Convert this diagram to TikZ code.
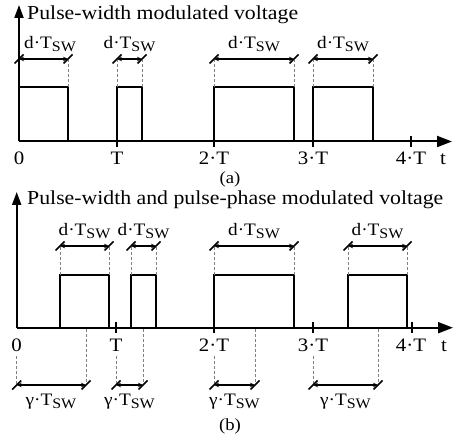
\documentclass[tikz,border=0pt]{standalone}
\usepackage{fontspec}
\setmainfont{Liberation Serif}[FakeStretch=1.1]
\usetikzlibrary{arrows.meta,calc}
\newcommand\subsw{\raisebox{-3pt}{\fontsize{14.5}{14.5}\selectfont SW}}
\newcommand\dTsw{d·T\subsw}
\newcommand\gTsw{γ·T\subsw}
\newcommand\mydim[5]{% x1, x2, y, label, name
  \coordinate (#5a) at (#1,#3);
  \coordinate (#5b) at (#2,#3);
  \draw[dimline] (#5a) -- (#5b);
  \draw[slash] ($(#5a)+(-4.5,4.5)$) -- ($(#5a)+(4.5,-4.5)$);
  \draw[slash] ($(#5b)+(-4.5,4.5)$) -- ($(#5b)+(4.5,-4.5)$);
  \node[dlab] (#5l) at ($(#5a)!0.5!(#5b)+(0,-10)$) {#4};
}
\begin{document}
\begin{tikzpicture}[x=1pt,y=-1pt,
  vaxis/.style={line width=2pt,-{Triangle[length=13pt,width=9pt]}},
  haxis/.style={line width=2pt,-{Triangle[length=15pt,width=11pt]}},
  pulse/.style={line width=2pt},
  dimline/.style={line width=1.6pt,{Stealth[length=5pt,width=4.5pt]}-{Stealth[length=5pt,width=4.5pt]}},
  slash/.style={line width=1.5pt},
  guide/.style={gray,line width=1pt,dash pattern=on 3pt off 2pt},
  tickmark/.style={line width=1.8pt},
  dlab/.style={font=\fontsize{17.5}{17.5}\selectfont,inner sep=0pt,anchor=base},
  tlab/.style={font=\fontsize{19}{19}\selectfont,inner sep=0pt,anchor=base},
  title/.style={font=\fontsize{19.8}{20}\selectfont,inner sep=0pt,anchor=base west},
  caplab/.style={font=\fontsize{17}{17}\selectfont,inner sep=0pt,anchor=base}]
\useasboundingbox (0,0) rectangle (474,443);

% ================= (a) =================
\coordinate (oa) at (19,141.5);
\coordinate (ya) at (19,5);
\coordinate (xa) at (452,141.5);
\node[title] (ta) at (27,20) {Pulse-width modulated voltage};
% pulses
\draw[pulse] (19,141.5) -- (19,87) -- (68,87) -- (68,141.5);
\draw[pulse] (117,141.5) -- (117,87) -- (142,87) -- (142,141.5);
\draw[pulse] (214,141.5) -- (214,87) -- (294,87) -- (294,141.5);
\draw[pulse] (313,141.5) -- (313,87) -- (373,87) -- (373,141.5);
% ticks
\foreach \x in {117,214,313,411} \draw[tickmark] (\x,136) -- (\x,147);
% axes
\draw[vaxis] (oa) -- (ya);
\draw[haxis] (oa) -- (xa);
% guides
\foreach \x in {68,117,142,214,294,313,373} \draw[guide] (\x,87) -- (\x,60);
% dimensions
\mydim{19}{68}{59}{}{a1}
\node[dlab] (a1t) at (50,49) {\dTsw};
\mydim{117}{142}{59}{\dTsw}{a2}
\mydim{214}{294}{59}{\dTsw}{a3}
\mydim{313}{373}{59}{\dTsw}{a4}
% tick labels
\node[tlab] (a0) at (19,165) {0};
\node[tlab] (aT) at (117,165) {T};
\node[tlab] (a2T) at (214,165) {2·T};
\node[tlab] (a3T) at (313,165) {3·T};
\node[tlab] (a4T) at (411,165) {4·T};
\node[tlab] (at) at (443,165) {t};
\node[caplab] (capa) at (230,184) {(a)};

% ================= (b) =================
\coordinate (ob) at (16.7,327.7);
\coordinate (yb) at (16.7,192);
\coordinate (xb) at (453,327.7);
\node[title] (tb) at (27,205) {Pulse-width and pulse-phase modulated voltage};
% pulses
\draw[pulse] (60,327.7) -- (60,275) -- (109,275) -- (109,327.7);
\draw[pulse] (131,327.7) -- (131,275) -- (156,275) -- (156,327.7);
\draw[pulse] (214,327.7) -- (214,275) -- (294,275) -- (294,327.7);
\draw[pulse] (348,327.7) -- (348,275) -- (407,275) -- (407,327.7);
% ticks
\foreach \x in {116,214,313,412} \draw[tickmark] (\x,322) -- (\x,333);
% axes
\draw[vaxis] (ob) -- (yb);
\draw[haxis] (ob) -- (xb);
% upper guides
\foreach \x in {60,109,131,156,214,294,348,407} \draw[guide] (\x,275) -- (\x,247);
% lower guides
\foreach \x in {86,143,255,378} \draw[guide] (\x,329) -- (\x,384);
\foreach \x in {16.7,116,214,313} \draw[guide] (\x,356) -- (\x,384);
% dimensions
\mydim{60}{109}{246}{\dTsw}{b1}
\mydim{131}{156}{246}{\dTsw}{b2}
\mydim{214}{294}{246}{\dTsw}{b3}
\mydim{348}{407}{246}{\dTsw}{b4}
% gamma dimensions
\mydim{16.7}{86}{385}{}{g1}
\mydim{116}{143}{385}{}{g2}
\mydim{214}{255}{385}{}{g3}
\mydim{313}{378}{385}{}{g4}
\node[dlab] (g1t) at (51,406) {\gTsw};
\node[dlab] (g2t) at (129.5,406) {\gTsw};
\node[dlab] (g3t) at (234.5,406) {\gTsw};
\node[dlab] (g4t) at (345.5,406) {\gTsw};
% tick labels
\node[tlab] (b0) at (16.7,352) {0};
\node[tlab] (bT) at (116,352) {T};
\node[tlab] (b2T) at (214,352) {2·T};
\node[tlab] (b3T) at (313,352) {3·T};
\node[tlab] (b4T) at (411,352) {4·T};
\node[tlab] (bt) at (444,352) {t};
\node[caplab] (capb) at (230,431) {(b)};
\end{tikzpicture}
\end{document}
